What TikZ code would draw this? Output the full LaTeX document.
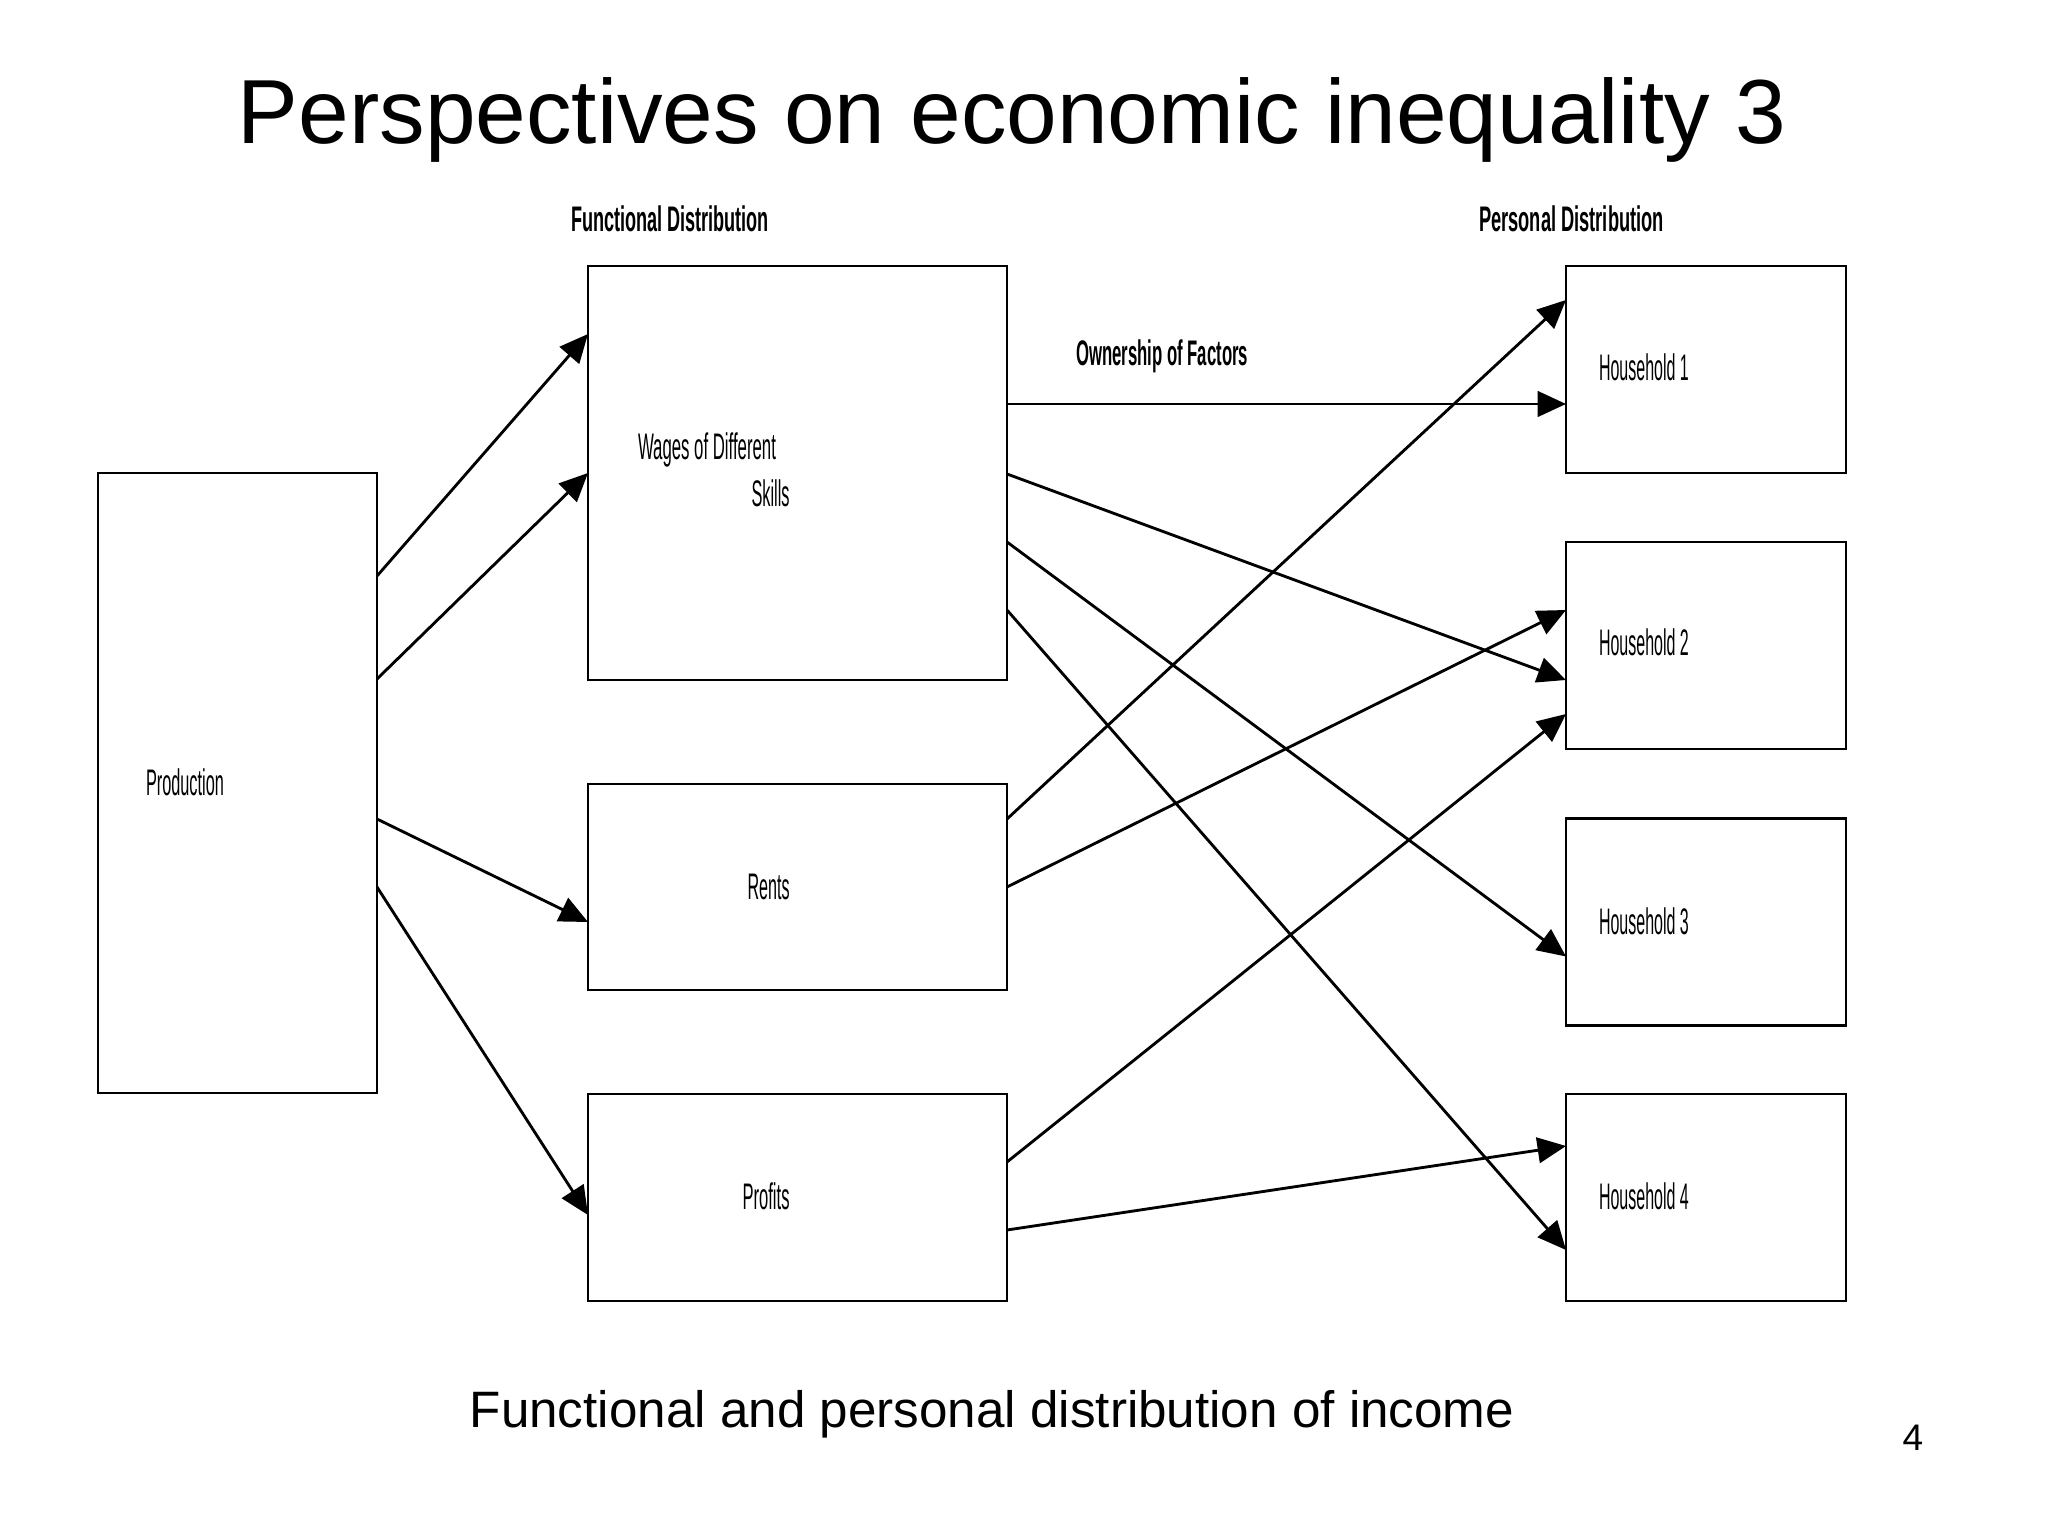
\documentclass[tikz,border=0pt]{standalone}
\usepackage{fontspec}
\setmainfont{Liberation Sans}
\usepackage{graphicx}
\usetikzlibrary{arrows.meta,calc}
\newcommand\pxu{0.3515625pt}
\newcommand\lab[3]{\resizebox{#1}{\height}{\fontsize{#2}{#2}\selectfont #3}}
\tikzset{
  box/.style={draw, line width=1pt, rectangle, inner sep=0pt, outer sep=0pt},
  lbl/.style={anchor=base west, inner sep=0pt, outer sep=0pt},
  arr/.style={line width=1pt, -{Triangle[length=10pt,width=9pt]}},
}
\begin{document}
\begin{tikzpicture}[x=0.3515625pt, y=-0.3515625pt]
\useasboundingbox (0,0) rectangle (2048,1536);
\fill[white] (0,0) rectangle (2048,1536);

% title and captions
\node[anchor=base, inner sep=0pt] (title) at (1012,144) {\fontsize{32}{38}\selectfont Perspectives on economic inequality 3};
\node[anchor=base, inner sep=0pt] (caption) at (992,1427) {\fontsize{18}{22}\selectfont Functional and personal distribution of income};
\node[anchor=base, inner sep=0pt] (pagenum) at (1913,1450) {\fontsize{13}{16}\selectfont 4};

% boxes
\node[box, minimum width=279*\pxu, minimum height=620*\pxu] (prod) at (237.5,783) {};
\node[box, minimum width=419*\pxu, minimum height=414*\pxu] (wages) at (797.5,473) {};
\node[box, minimum width=419*\pxu, minimum height=206*\pxu] (rents) at (797.5,887) {};
\node[box, minimum width=419*\pxu, minimum height=207*\pxu] (profits) at (797.5,1197.5) {};
\node[box, minimum width=280*\pxu, minimum height=207*\pxu] (h1) at (1706,369.5) {};
\node[box, minimum width=280*\pxu, minimum height=207*\pxu] (h2) at (1706,645.5) {};
\node[box, minimum width=280*\pxu, minimum height=207*\pxu] (h3) at (1706,922) {};
\node[box, minimum width=280*\pxu, minimum height=207*\pxu] (h4) at (1706,1197.5) {};

% labels
\node[lbl] (lfd) at (571,232) {\lab{69.6pt}{12.5}{\bfseries Functional Distribution}};
\node[lbl] (lpd) at (1479,232) {\lab{65pt}{12.5}{\bfseries Personal Distribution}};
\node[lbl] (lof) at (1076,366) {\lab{60.5pt}{12.5}{\bfseries Ownership of Factors}};
\node[lbl] (lw1) at (638,460) {\lab{48.5pt}{13}{Wages of Different}};
\node[lbl] (lw2) at (751.5,507) {\lab{13.4pt}{13}{Skills}};
\node[lbl] (lpr) at (146,795) {\lab{27.4pt}{13}{Production}};
\node[lbl] (lre) at (747.5,899) {\lab{14.8pt}{13}{Rents}};
\node[lbl] (lpf) at (742.6,1209) {\lab{16.5pt}{13}{Profits}};
\node[lbl] (lh1) at (1599,381) {\lab{31.6pt}{13}{Household 1}};
\node[lbl] (lh2) at (1599,656) {\lab{31.6pt}{13}{Household 2}};
\node[lbl] (lh3) at (1599,934) {\lab{31.6pt}{13}{Household 3}};
\node[lbl] (lh4) at (1599,1209) {\lab{31.6pt}{13}{Household 4}};

% production to functional distribution
\draw[arr] ($(prod.north east)+(0,103)$) -- ($(wages.north west)+(0,68)$);
\draw[arr] ($(prod.north east)+(0,206)$) -- ($(wages.north west)+(0,207)$);
\draw[arr] ($(prod.north east)+(0,346)$) -- ($(rents.north west)+(0,138)$);
\draw[arr] ($(prod.north east)+(0,414)$) -- ($(profits.north west)+(0,121)$);

% functional to personal distribution
\draw[arr] ($(wages.north east)+(0,138)$) -- ($(h1.north west)+(0,138)$);
\draw[arr] ($(wages.north east)+(0,208)$) -- ($(h2.north west)+(0,138)$);
\draw[arr] ($(wages.north east)+(0,276)$) -- ($(h3.north west)+(0,138)$);
\draw[arr] ($(wages.north east)+(0,344)$) -- ($(h4.north west)+(0,156)$);
\draw[arr] ($(rents.north east)+(0,35)$) -- ($(h1.north west)+(0,34)$);
\draw[arr] ($(rents.north east)+(0,103)$) -- ($(h2.north west)+(0,68)$);
\draw[arr] ($(profits.north east)+(0,68)$) -- ($(h2.north west)+(0,172)$);
\draw[arr] ($(profits.north east)+(0,136)$) -- ($(h4.north west)+(0,52)$);
\end{tikzpicture}
\end{document}
